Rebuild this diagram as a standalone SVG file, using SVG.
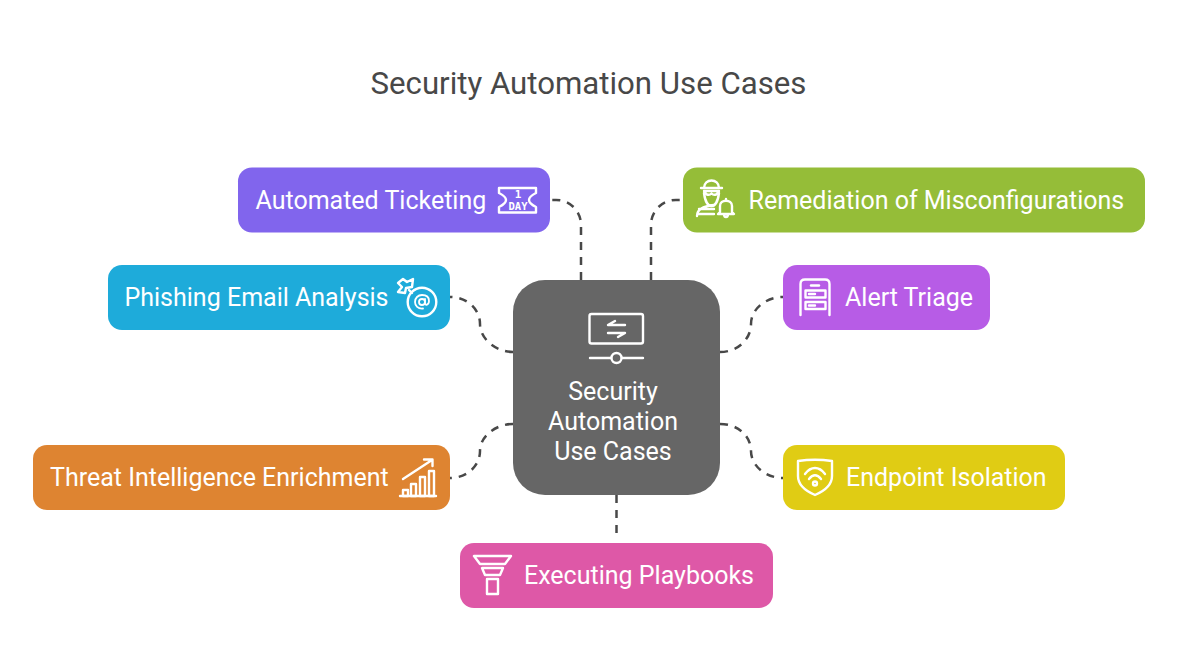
<svg xmlns="http://www.w3.org/2000/svg" width="1178" height="670" viewBox="0 0 1178 670">
<style>
text{font-family:Roboto,"Liberation Sans",sans-serif;}
.t{font-size:25px;fill:#fff;}
.c{font-size:25px;fill:#fff;text-anchor:middle;}
.h{font-size:31.200px;fill:#484848;}
.l{fill:none;stroke:#484848;stroke-width:2.5;stroke-dasharray:8 7;}
.i{fill:none;stroke:#fff;stroke-width:2.4;stroke-linecap:round;stroke-linejoin:round;}
.d{font-size:11px;font-weight:700;fill:#fff;text-anchor:middle;font-family:"DejaVu Sans Mono",monospace;}
</style>
<rect width="1178" height="670" fill="#fff"/>
<text class="h" x="370.500" y="94">Security Automation Use Cases</text>
<g id="connectors">
<path class="l" d="M581 280V225C581 211 570 200 556 200H550"/>
<path class="l" d="M651 280V225C651 211 662 200 676 200H683"/>
<path class="l" d="M513 352C496 352 480 339 480 324C480 309 467 297 450 297"/>
<path class="l" d="M720 352C738 352 751 339 751 324C751 309 766 297 783 297"/>
<path class="l" d="M513 424C496 424 480 436 480 451C480 466 467 478 450 478"/>
<path class="l" d="M720 424C738 424 751 436 751 451C751 466 766 478 783 478"/>
<path class="l" d="M616.500 495V537"/>
</g>
<g id="node-center">
<rect x="513" y="280" width="207" height="215" rx="32" fill="#666"/>
<g class="i"><rect x="589.500" y="314" width="53.500" height="29.500" rx="2"/><path d="M590 358H611M622 358H643"/><circle cx="616.500" cy="358" r="5"/><path d="M625 325H608L615 321M608 333H625L618 337"/></g>
<text class="c" x="613" y="400">Security</text>
<text class="c" x="613" y="430">Automation</text>
<text class="c" x="613" y="460">Use Cases</text>
</g>
<g id="node-ticketing">
<rect x="238" y="167.500" width="312" height="65" rx="14" fill="#8165ed"/>
<text class="t" x="255.500" y="208.500">Automated Ticketing</text>
<path class="i" d="M499 188H536V193C532 195 529 197 529 200C529 203 532 205 536 207V212.500H499V207C503 205 506 203 506 200C506 197 503 195 499 193Z" stroke-width="2"/>
<text class="d" x="518" y="197.500">1</text><text class="d" x="518" y="210" textLength="19" lengthAdjust="spacingAndGlyphs">DAY</text>
</g>
<g id="node-remediation">
<rect x="683" y="167.500" width="462" height="65" rx="14" fill="#95bd38"/>
<text class="t" x="748.500" y="208.500">Remediation of Misconfigurations</text>
<g class="i"><path d="M704 188C704 178 719 178 719 188"/><path d="M701 188H722"/><path d="M704 191H719M705 191C705 196 710 195 711.500 193.500C713 195 718 196 718 191"/><path d="M704 193C705 201 708 206 711.500 206C715 206 718 201 719 193"/><path d="M697 216C697 209 704 206 714 205M699 209H714M698 214H714"/><path d="M720 212V206C720 199 732 199 732 206V212L734 214H718ZM726 199V200M724 214C724 218 728 218 728 214"/></g>
</g>
<g id="node-phishing">
<rect x="108" y="265" width="342" height="65" rx="14" fill="#1eabda"/>
<text class="t" x="124.500" y="306">Phishing Email Analysis</text>
<g class="i"><circle cx="422" cy="302" r="14.300"/><path d="M412 293L409 290"/><path d="M403 279L407 282L413 279L412 287L406 288L405 293L398 292L402 287L398 283Z"/><g stroke-width="1.800"><circle cx="422" cy="302" r="3"/><path d="M425 299V303C425 306 429 305 429 301C429 297 426 295 422 295C418 295 415 298 415 302C415 306 418 309 423 308.500"/></g></g>
</g>
<g id="node-alert">
<rect x="783" y="265" width="207" height="65" rx="14" fill="#b75ce6"/>
<text class="t" x="845" y="306">Alert Triage</text>
<g class="i"><path d="M800.500 315V284C800.500 281 802 279.500 805 279.500H825C828 279.500 829.500 281 829.500 284V315"/><path d="M811 285.500H819"/><rect x="805.500" y="290.500" width="20" height="7"/><rect x="805.500" y="302" width="20" height="7"/><path d="M809 294H815M809 305.500H815"/></g>
</g>
<g id="node-threat">
<rect x="33" y="445" width="417" height="65" rx="14" fill="#de8431"/>
<text class="t" x="50" y="486">Threat Intelligence Enrichment</text>
<g class="i"><path d="M403 479L432 460M424 459.500H432.500V466M400 496H436"/><rect x="403" y="490" width="5" height="6"/><rect x="411" y="484" width="5" height="12"/><rect x="420" y="477" width="5" height="19"/><rect x="429" y="471" width="5" height="25"/></g>
</g>
<g id="node-endpoint">
<rect x="783" y="445" width="282" height="65" rx="14" fill="#e0cc14"/>
<text class="t" x="846" y="486">Endpoint Isolation</text>
<g class="i"><path d="M798 461C808 459.500 822 459.500 832 461V476C832 486 822 492 815 495C808 492 798 486 798 476Z"/><path d="M805 474C811 466 819 466 825 474M809 479C813 474 817 474 821 479"/><circle cx="815" cy="483.500" r="2"/></g>
</g>
<g id="node-playbooks">
<rect x="460" y="543" width="313" height="65" rx="14" fill="#de58a7"/>
<text class="t" x="524" y="584">Executing Playbooks</text>
<g class="i"><path d="M474 556H511L505 564H480ZM482 568H503L500 575H485ZM487 579H498V594H487Z"/></g>
</g>
</svg>
